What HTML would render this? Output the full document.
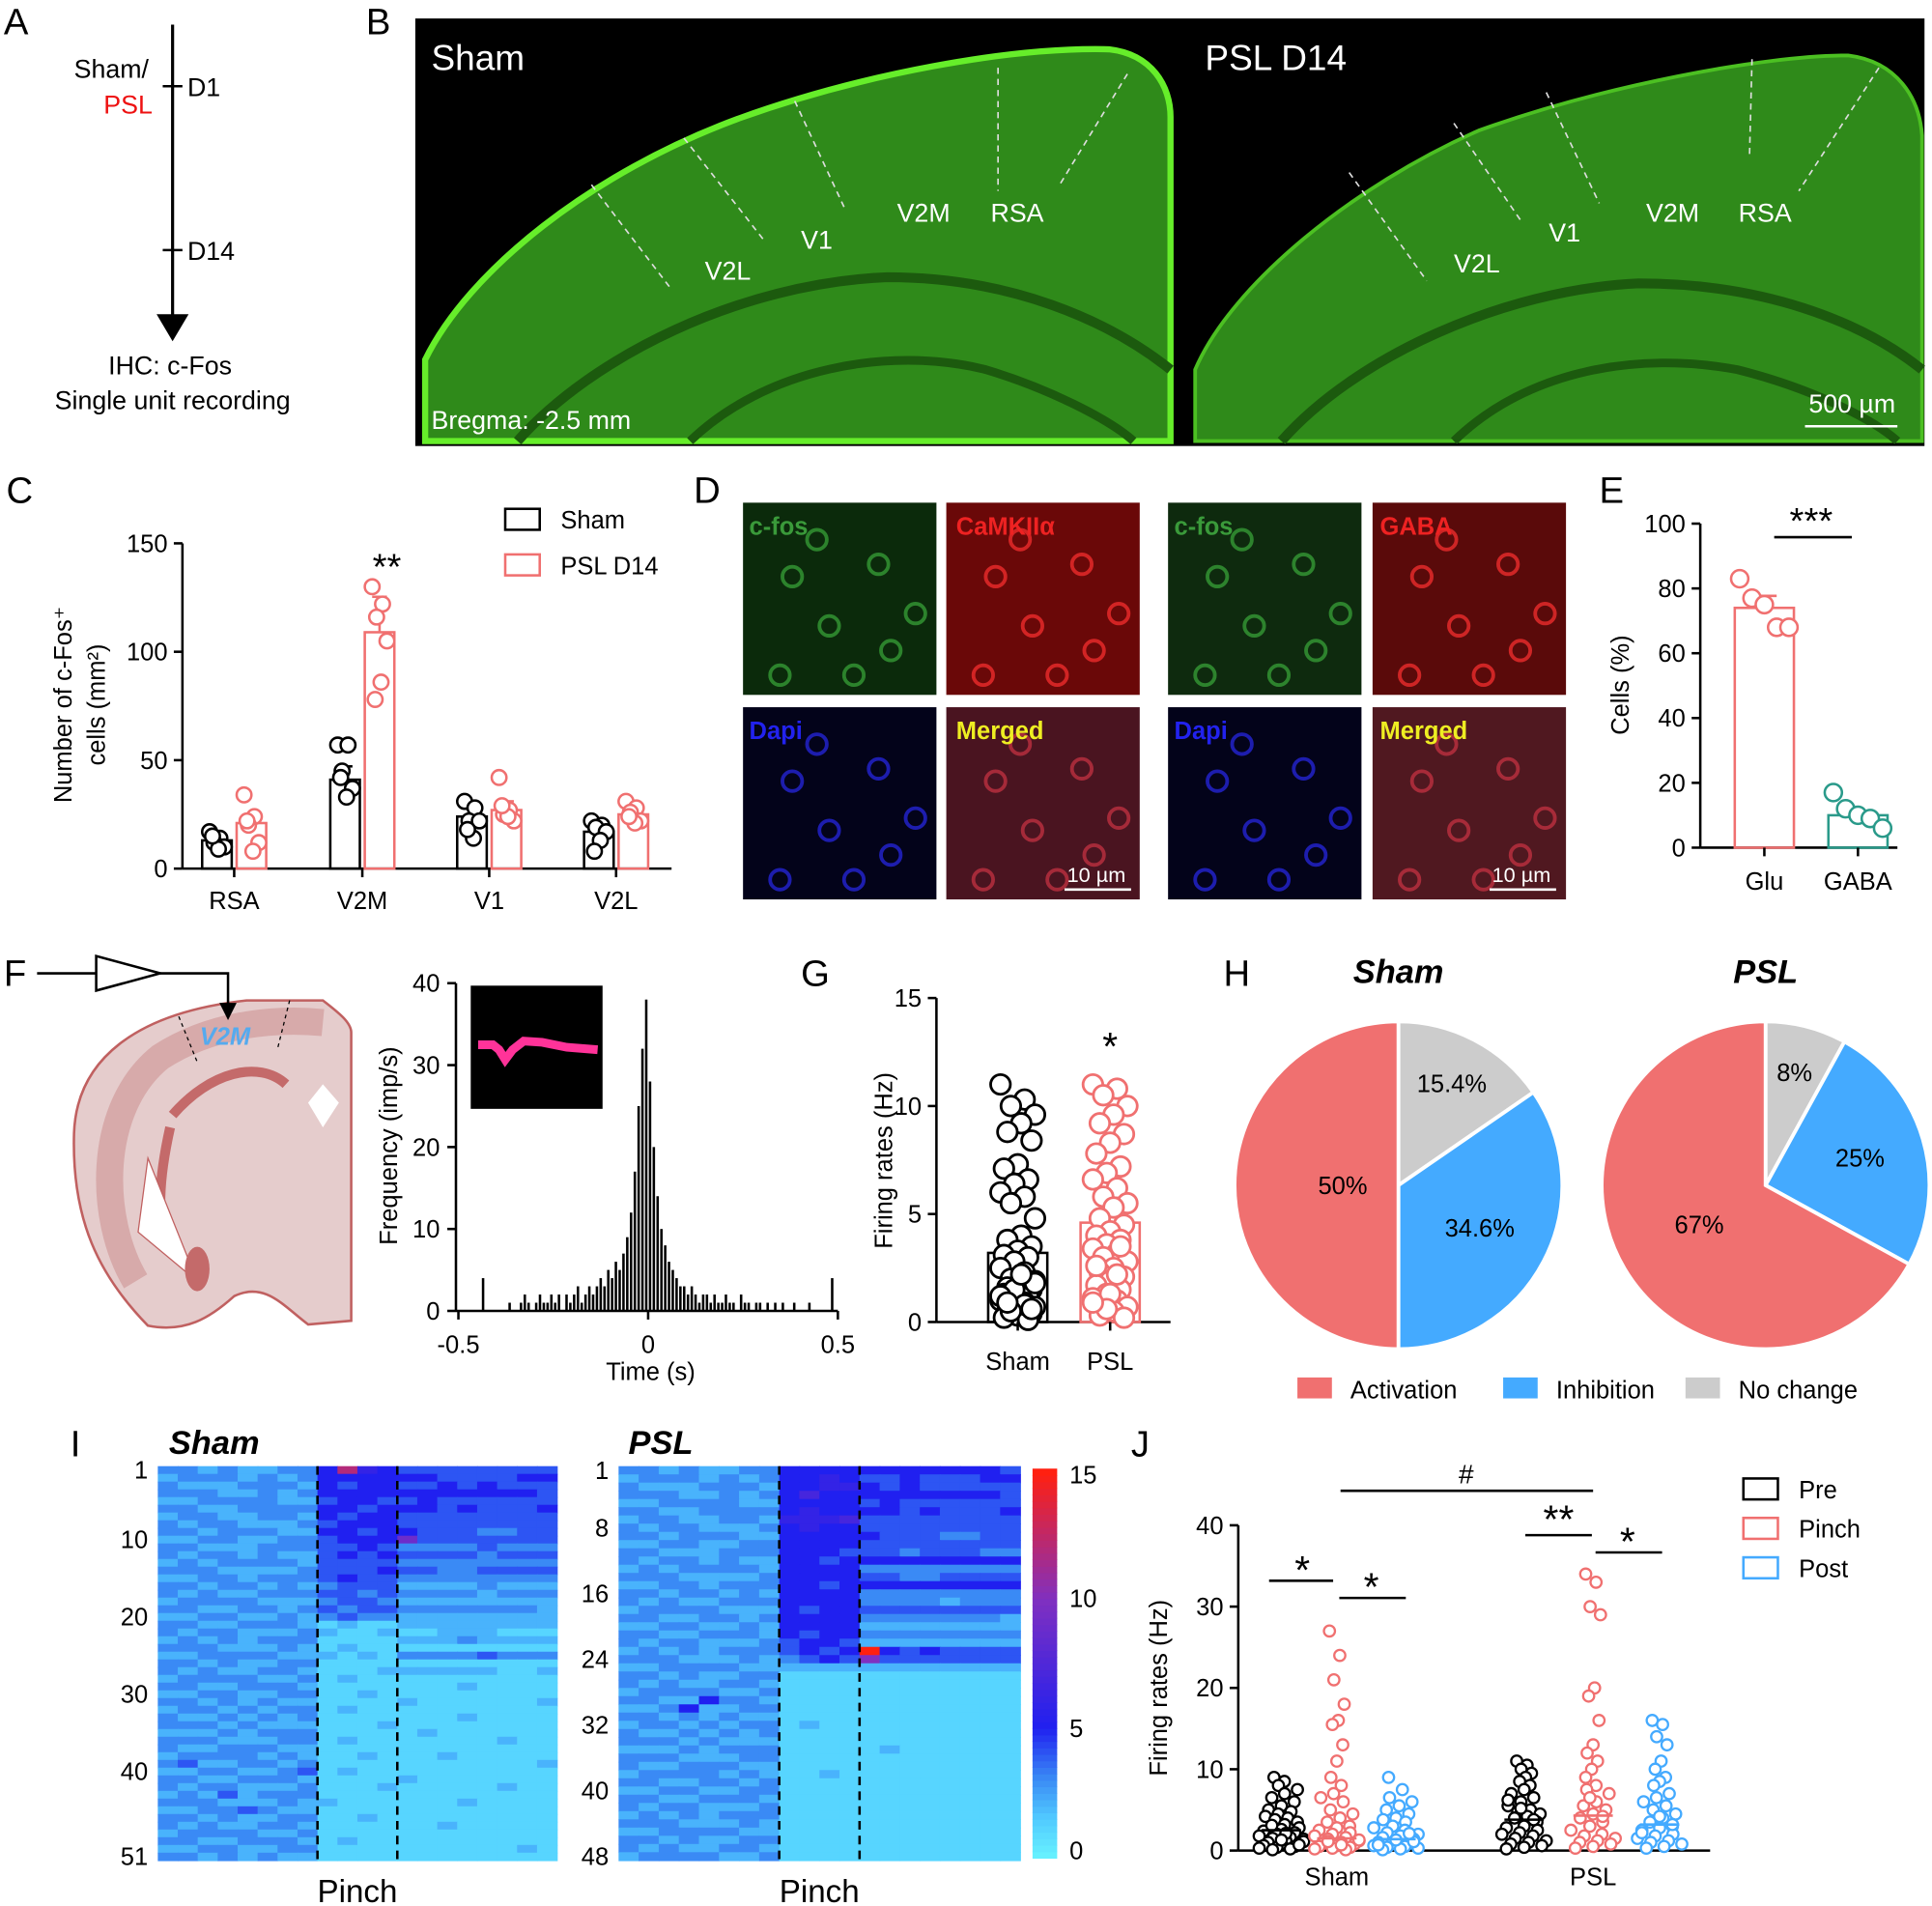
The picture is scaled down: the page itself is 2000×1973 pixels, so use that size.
<!DOCTYPE html>
<html><head><meta charset="utf-8"><style>
html,body{margin:0;padding:0;background:#fff}
svg{display:block;font-family:"Liberation Sans",sans-serif}
</style></head><body>
<svg id="fig" width="2000" height="1973" viewBox="0 0 1568 1547" xmlns="http://www.w3.org/2000/svg">
<g font-size="30" fill="#000">
<text x="3" y="28">A</text><text x="297" y="28">B</text><text x="5" y="408">C</text><text x="563" y="408">D</text><text x="1298" y="408">E</text>
<text x="3" y="800">F</text><text x="650" y="800">G</text><text x="993" y="800">H</text><text x="57" y="1182">I</text><text x="918" y="1182">J</text>
</g>
<g font-size="21">
<line x1="140" y1="20" x2="140" y2="258" stroke="#000" stroke-width="2.5"/>
<polygon points="127,255 153,255 140,277" fill="#000"/>
<line x1="132" y1="70" x2="148" y2="70" stroke="#000" stroke-width="2"/>
<line x1="132" y1="203" x2="148" y2="203" stroke="#000" stroke-width="2"/>
<text x="60" y="63">Sham/</text><text x="84" y="92" fill="#ee1111">PSL</text>
<text x="152" y="78">D1</text><text x="152" y="211">D14</text>
<text x="138" y="304" text-anchor="middle">IHC: c-Fos</text>
<text x="140" y="332" text-anchor="middle">Single unit recording</text>
</g>
<g>
<rect x="337" y="15" width="1225" height="347" fill="#000"/>
<path d="M345,292 C380,220 480,140 600,96 C700,60 820,38 900,40 C935,44 950,70 950,95 L950,358 L345,358 Z" fill="#2f8a1a" stroke="#66ee2a" stroke-width="5"/>
<path d="M420,358 C480,290 600,230 720,225 C820,225 900,260 950,300" fill="none" stroke="#1c5a0e" stroke-width="8"/>
<path d="M560,358 C620,300 720,280 800,300 C850,315 900,340 920,358" fill="none" stroke="#1c5a0e" stroke-width="7"/>
<path d="M970,300 C1000,230 1100,150 1200,106 C1300,70 1430,45 1500,45 C1540,50 1558,80 1560,110 L1560,358 L970,358 Z" fill="#2f8a1a" stroke="#4cc022" stroke-width="3"/>
<path d="M1040,358 C1100,290 1220,235 1330,230 C1430,230 1510,260 1560,300" fill="none" stroke="#1c5a0e" stroke-width="8"/>
<path d="M1180,358 C1240,300 1330,285 1410,300 C1470,315 1520,340 1540,358" fill="none" stroke="#1c5a0e" stroke-width="7"/>
<g stroke="#ddd" stroke-width="1.3" stroke-dasharray="5,4" fill="none">
<line x1="480" y1="150" x2="545" y2="235"/><line x1="555" y1="112" x2="620" y2="195"/><line x1="645" y1="82" x2="685" y2="168"/><line x1="810" y1="55" x2="810" y2="155"/><line x1="915" y1="60" x2="860" y2="150"/>
<line x1="1095" y1="140" x2="1158" y2="228"/><line x1="1180" y1="100" x2="1235" y2="180"/><line x1="1255" y1="75" x2="1298" y2="165"/><line x1="1422" y1="48" x2="1420" y2="125"/><line x1="1525" y1="55" x2="1460" y2="155"/>
</g>
<g fill="#fff" font-size="21">
<text x="350" y="57" font-size="29">Sham</text><text x="978" y="57" font-size="29">PSL D14</text>
<text x="572" y="227">V2L</text><text x="650" y="202">V1</text><text x="728" y="180">V2M</text><text x="804" y="180">RSA</text>
<text x="1180" y="221">V2L</text><text x="1257" y="196">V1</text><text x="1336" y="180">V2M</text><text x="1411" y="180">RSA</text>
<text x="350" y="348">Bregma: -2.5 mm</text><text x="1468" y="335">500 µm</text>
</g>
<line x1="1465" y1="346" x2="1540" y2="346" stroke="#fff" stroke-width="2"/>
</g>
<g font-size="20" font-weight="bold">
<rect x="603" y="408" width="157" height="156" fill="#0b2a0b"/><rect x="768" y="408" width="157" height="156" fill="#6a0808"/>
<rect x="603" y="574" width="157" height="156" fill="#03031a"/><rect x="768" y="574" width="157" height="156" fill="#4a1420"/>
<rect x="948" y="408" width="157" height="156" fill="#0e2a0e"/><rect x="1114" y="408" width="157" height="156" fill="#5a0a0a"/>
<rect x="948" y="574" width="157" height="156" fill="#03031a"/><rect x="1114" y="574" width="157" height="156" fill="#501820"/>
<g id="cells"></g>
<text x="608" y="434" fill="#3a9a3a">c-fos</text><text x="776" y="434" fill="#ee2222">CaMKIIα</text>
<text x="608" y="600" fill="#2222ee">Dapi</text><text x="776" y="600" fill="#eeee22">Merged</text>
<text x="953" y="434" fill="#3a9a3a">c-fos</text><text x="1120" y="434" fill="#ee2222">GABA</text>
<text x="953" y="600" fill="#2222ee">Dapi</text><text x="1120" y="600" fill="#eeee22">Merged</text>
<g font-weight="normal" fill="#fff" font-size="17"><text x="866" y="716">10 µm</text><text x="1211" y="716">10 µm</text></g>
<line x1="864" y1="722" x2="918" y2="722" stroke="#fff" stroke-width="2"/><line x1="1209" y1="722" x2="1263" y2="722" stroke="#fff" stroke-width="2"/>
</g>
<g>
<path d="M60,920 C62,860 110,822 200,812 L262,812 C275,822 285,830 285,838 L285,1072 L250,1075 C230,1060 215,1040 190,1052 C170,1070 150,1082 120,1076 C80,1035 58,990 60,920 Z" fill="#e5cccc" stroke="#c06060" stroke-width="2"/>
<path d="M110,1040 C80,990 78,900 130,858 C170,832 220,826 262,830" fill="none" stroke="#d7aaaa" stroke-width="22"/>
<path d="M140,905 C170,870 210,860 232,880" fill="none" stroke="#c46a6a" stroke-width="8"/>
<path d="M138,915 C128,960 128,990 135,1005" fill="none" stroke="#c46a6a" stroke-width="8"/>
<path d="M120,940 L112,1000 L160,1040 Z" fill="#fff" stroke="#c06060"/>
<ellipse cx="160" cy="1030" rx="10" ry="18" fill="#c46a6a"/>
<path d="M250,895 L262,880 L275,895 L262,915 Z" fill="#fff"/>
<line x1="30" y1="790" x2="78" y2="790" stroke="#000" stroke-width="2"/>
<polygon points="78,776 78,804 130,790" fill="#fff" stroke="#000" stroke-width="2"/>
<polyline points="130,790 185,790 185,818" fill="none" stroke="#000" stroke-width="2"/>
<polygon points="178,814 192,814 185,828" fill="#000"/>
<line x1="145" y1="825" x2="160" y2="862" stroke="#000" stroke-dasharray="3,3"/><line x1="235" y1="812" x2="225" y2="852" stroke="#000" stroke-dasharray="3,3"/>
<text x="162" y="848" font-size="20" font-weight="bold" font-style="italic" fill="#55aaee">V2M</text>
</g>
<g id="charts"></g>
<g font-weight="bold" font-style="italic" font-size="27">
<text x="1135" y="798" text-anchor="middle">Sham</text><text x="1433" y="798" text-anchor="middle">PSL</text>
<text x="137" y="1180">Sham</text><text x="510" y="1180">PSL</text>
</g>
</svg>
<script>
const NS='http://www.w3.org/2000/svg';
const root=document.getElementById('charts');
function mk(tag,a,parent){const e=document.createElementNS(NS,tag);for(const k in a)e.setAttribute(k,a[k]);(parent||root).appendChild(e);return e;}
function tx(x,y,s,a){const e=mk('text',Object.assign({x:x,y:y,'font-size':20},a||{}));e.textContent=s;return e;}

const cRegions=['RSA','V2M','V1','V2L'];
const cShamMean=[13,41,24,17];
const cPslMean=[21,109,27,25];
const cShamPts=[[17,14,12,10,9,15],[57,57,45,37,33,42],[31,28,22,22,14,18],[22,20,19,17,13,8]];
const cPslPts=[[34,24,20,12,8,22],[130,122,116,105,86,78],[42,27,25,22,24,29],[31,28,26,22,21,24]];
const cTicks=[0,50,100,150];
const eCats=['Glu','GABA'];
const eMeans=[74,10];
const ePts=[[83,77,75,68,68],[17,12,10,9,6]];
const eTicks=[0,20,40,60,80,100];
const fCounts=[0,0,0,0,0,0,4,0,0,0,0,0,0,1,0,0,1,2,1,0,1,2,1,1,2,1,2,0,2,1,2,3,1,2,3,2,3,4,3,5,4,6,5,7,9,12,17,25,32,38,28,20,14,10,8,6,5,4,3,3,2,3,2,1,2,2,1,2,1,1,2,1,1,0,2,1,1,0,1,1,0,1,0,1,0,1,0,0,1,0,0,0,1,0,0,0,0,0,4,0];
const fYTicks=[0,10,20,30,40];
const fXTicks=[-0.5,0,0.5];
const gCats=['Sham','PSL'];
const gMeans=[3.2,4.6];
const gSham=[11,10.3,10,9.6,9.2,8.8,8.4,7.3,7.1,6.6,6.4,6,5.8,5.5,4.8,4,3.8,3.5,3.3,3.1,3,2.8,2.5,2.3,2,1.9,1.7,1.6,1.5,1.4,1.3,1.2,1.1,1,0.9,0.8,0.7,0.6,0.5,0.4,0.3,0.2,0.1,1.5,1.2,0.8,0.5,1.8,2.2,0.9,0.6];
const gPsl=[11,10.8,10.5,10,9.6,9.2,8.7,8.3,7.8,7.2,6.9,6.6,6.2,5.8,5.5,5.3,4.8,4.5,4.2,4,3.8,3.6,3.4,3.2,3,2.8,2.5,2.3,2.1,1.9,1.7,1.5,1.3,1.1,1,0.8,0.7,0.5,0.3,0.2,1.3,2.6,3.5,0.6,0.9,2.2];
const gTicks=[0,5,10,15];
const hLabels=['No change','Inhibition','Activation'];
const hSham=[15.4,34.6,50];
const hPsl=[8,25,67];
const hShamText=['15.4%','34.6%','50%'];
const hPslText=['8%','25%','67%'];
const iSham=["33232233 5c65 44444444","23332323 5555 55444455","32223332 5455 44545444","33322323 5555 55555554","22333322 4554 45444444","33223333 5545 55454445","23322332 5455 44444444","32332223 4555 44444444","33233322 5545 54443344","22332233 4555 94444444","33222333 4454 33334333","32332322 4545 44443444","23233332 4444 33333333","33322223 4445 44334444","22332333 4544 33333333","33233232 3444 22223222","32322333 4434 33332333","23333222 3443 22222222","33223323 4344 33333332","22332232 3433 22222222","33223332 1211 22222222","32332223 2112 11222111","23232333 1111 22232222","33322232 1211 11111111","22333322 2121 33334333","33232233 1111 11111111","32322332 1112 22222112","23333223 1211 11111111","33223332 1111 11121111","22332233 1121 11111111","33232322 1111 21111112","23323233 1211 11111111","32232323 1111 11121111","33323222 1112 11111111","22232333 1111 12111111","33322233 1211 11111211","32233322 1111 11111111","23333232 1121 11211111","34223323 1111 11111112","22332234 1211 11111111","33223332 1111 21111111","32332223 1112 11111211","23242333 1111 11111111","33322232 2111 11121111","22334322 1111 11111111","33232233 1121 11111111","32322332 1111 11211111","23333223 1111 11111111","33223332 1211 11111111","22332233 1111 11111121","33232322 1111 11111111"];
const iPsl=["33232233 5555 55555554","23332323 5565 44544455","32223332 5566 54544444","33322323 5755 55555554","22333322 5555 45444444","33223333 5655 55454445","23322332 6667 44444444","32332223 5655 44444444","33233322 5555 54443344","22332233 5555 44444444","33222333 5554 44344433","32332322 5545 55555555","23233332 5555 33333333","33322223 5555 44334444","22332333 5545 55555555","33233232 5555 33333333","32322333 5555 33332333","23333222 5455 44444444","33223323 5555 33333332","22332232 5555 22222222","33223332 5455 33333333","32332223 4554 22222222","23232333 4545 f5454444","33322232 3454 a4444444","22333322 2222 22222222","33232233 1111 11111111","32322332 1111 11111111","23333223 1111 11111111","33225332 1111 11111111","22352233 1111 11111111","33232322 1111 11111111","23323233 1211 11111111","32232323 1111 11111111","33323222 1111 11111111","22232333 1111 12111111","33322233 1111 11111111","32233322 1111 11111111","23333232 1121 11111111","33223323 1111 11111111","22332233 1111 11111111","33223332 1111 11111111","32332223 1111 11111111","23232333 1111 11111111","33322232 1111 11111111","22333322 1111 11111111","33232233 1111 11111111","32322332 1111 11111111","23333223 1111 11111111"];
const iShamTicks=[1,10,20,30,40,51];
const iPslTicks=[1,8,16,24,32,40,48];
const cbTicks=[0,5,10,15];
const jGroups=['Sham','PSL'];
const jConds=['Pre','Pinch','Post'];
const jShamPre=[9,8.5,8,7.5,7,6.5,6,5.5,5,4.8,4.5,4.2,4,3.8,3.5,3.2,3,2.8,2.6,2.4,2.2,2,1.8,1.6,1.5,1.4,1.2,1,0.9,0.8,0.6,0.5,0.4,0.3,0.2,0.1,1.1,2.1,3.1,0.7,1.3];
const jShamPinch=[27,24,21,18,16,15.5,13,11,9,8,7,6.5,6,5,4.5,4,3.5,3,2.8,2.5,2.2,2,1.8,1.6,1.4,1.2,1,0.9,0.8,0.6,0.5,0.4,0.3,0.2,0.1,1.1,1.3,0.7];
const jShamPost=[9,7.5,6.5,6,5.5,5,4.5,4,3.8,3.5,3,2.8,2.5,2.2,2,1.8,1.6,1.4,1.2,1,0.9,0.8,0.6,0.5,0.4,0.3,0.2,0.1,1.1,1.3,0.7,2.1];
const jPslPre=[11,10.5,10,9.5,9,8.5,8,7.5,7,6.5,6,5.5,5,4.8,4.5,4.2,4,3.5,3,2.8,2.5,2.2,2,1.8,1.5,1.2,1,0.8,0.6,0.4,0.2,3.8,5.2,6.2];
const jPslPinch=[34,33,30,29,20,19,16,13,12,11,10,9,8,7.5,7,6,5.5,5,4.5,4,3.5,3,2.5,2,1.8,1.5,1.2,1,0.8,0.5,0.3,4.2,6.5];
const jPslPost=[16,15.5,14,13,11,10,9,8.5,8,7,6.5,6,5.5,5,4.5,4,3.5,3,2.8,2.5,2,1.8,1.5,1.2,1,0.8,0.5,0.3,3.2,4.2,2.2];
const jMedians=[[2.5,1.5,1.4],[3.8,4.3,3.2]];
const jTicks=[0,10,20,30,40];

const RED='#f07070', BLUE='#44aaff', TEAL='#2a9a8a';
function jit(i,w){return (((i*7)%11)-5)/5*w;}

(function(){
 const g=mk('g',{});
  
 const y=v=>705-v*1.76, X0=148, X1=545;
 mk('line',{x1:X0,y1:705,x2:X0,y2:y(150),stroke:'#000','stroke-width':2},g);
 mk('line',{x1:X0,y1:705,x2:X1,y2:705,stroke:'#000','stroke-width':2},g);
 cTicks.forEach(t=>{mk('line',{x1:X0-7,y1:y(t),x2:X0,y2:y(t),stroke:'#000','stroke-width':2},g);
  const e=tx(X0-12,y(t)+7,String(t),{'text-anchor':'end'}); g.appendChild(e);
   });
 const cx=[190,294,397,500];
 cRegions.forEach((r,i)=>{
  const e=tx(cx[i],738,r,{'text-anchor':'middle'}); g.appendChild(e);
   
  mk('line',{x1:cx[i],y1:705,x2:cx[i],y2:712,stroke:'#000','stroke-width':2},g);
  [[cShamMean,cShamPts,'#000',-14],[cPslMean,cPslPts,RED,14]].forEach(([m,p,col,off])=>{
   const xc=cx[i]+off;
   const b=mk('rect',{x:xc-12,y:y(m[i]),width:24,height:705-y(m[i]),fill:'none',stroke:col,'stroke-width':2},g);
    
   mk('line',{x1:xc,y1:y(m[i]),x2:xc,y2:y(m[i]*1.15),stroke:col,'stroke-width':2},g);
   mk('line',{x1:xc-6,y1:y(m[i]*1.15),x2:xc+6,y2:y(m[i]*1.15),stroke:col,'stroke-width':2},g);
   p[i].forEach((v,k)=>{const d=mk('circle',{cx:xc+jit(k,6),cy:y(v),r:6,fill:'#fff',stroke:col,'stroke-width':2},g);
     });
  });
 });
 let e=tx(314,470,'**',{'font-size':30,'text-anchor':'middle'}); g.appendChild(e);
 mk('rect',{x:410,y:413,width:28,height:17,fill:'none',stroke:'#000','stroke-width':2},g);
 mk('rect',{x:410,y:450,width:28,height:17,fill:'none',stroke:RED,'stroke-width':2},g);
 e=tx(455,429,'Sham'); g.appendChild(e); e=tx(455,466,'PSL D14'); g.appendChild(e);
 e=tx(0,0,'Number of c-Fos⁺',{transform:'translate(58,572) rotate(-90)','text-anchor':'middle'}); g.appendChild(e);
 e=tx(0,0,'cells (mm²)',{transform:'translate(85,572) rotate(-90)','text-anchor':'middle'}); g.appendChild(e);
})();

(function(){
 const g=document.getElementById('cells');
 const pos=[[40,60],[70,100],[30,140],[110,50],[120,120],[60,30],[90,140],[140,90]];
 const quad=[[603,408,'#3aaa3a'],[768,408,'#ff3030'],[603,574,'#2a2aee'],[768,574,'#cc3344'],[948,408,'#3aaa3a'],[1114,408,'#ff3030'],[948,574,'#2a2aee'],[1114,574,'#cc3344']];
 quad.forEach(q=>pos.forEach(p=>{mk('circle',{cx:q[0]+p[0],cy:q[1]+p[1],r:8,fill:'none',stroke:q[2],'stroke-width':3,opacity:0.7},g);}));
})();

(function(){
 const g=mk('g',{});
  
 const y=v=>688-v*2.63, X0=1380;
 mk('line',{x1:X0,y1:688,x2:X0,y2:y(100),stroke:'#000','stroke-width':2},g);
 mk('line',{x1:X0,y1:688,x2:1540,y2:688,stroke:'#000','stroke-width':2},g);
 eTicks.forEach(t=>{mk('line',{x1:X0-7,y1:y(t),x2:X0,y2:y(t),stroke:'#000','stroke-width':2},g);
  const e=tx(X0-12,y(t)+7,String(t),{'text-anchor':'end'}); g.appendChild(e);});
 const cx=[1432,1508], cols=[RED,TEAL];
 eCats.forEach((c,i)=>{
  const b=mk('rect',{x:cx[i]-24,y:y(eMeans[i]),width:48,height:688-y(eMeans[i]),fill:'none',stroke:cols[i],'stroke-width':2},g);
   
  mk('line',{x1:cx[i]-10,y1:y(eMeans[i]*1.05),x2:cx[i]+10,y2:y(eMeans[i]*1.05),stroke:cols[i],'stroke-width':2},g);
  ePts[i].forEach((v,k)=>{const d=mk('circle',{cx:cx[i]+(k-2)*10,cy:y(v),r:7,fill:'#fff',stroke:cols[i],'stroke-width':2},g);
    });
  const e=tx(cx[i],722,c,{'text-anchor':'middle'}); g.appendChild(e);
  mk('line',{x1:cx[i],y1:688,x2:cx[i],y2:695,stroke:'#000','stroke-width':2},g);
 });
 mk('line',{x1:1440,y1:436,x2:1503,y2:436,stroke:'#000','stroke-width':2},g);
 let e=tx(1470,433,'***',{'font-size':30,'text-anchor':'middle'}); g.appendChild(e);
 e=tx(0,0,'Cells (%)',{transform:'translate(1322,556) rotate(-90)','text-anchor':'middle'}); g.appendChild(e);
})();

(function(){
 const g=mk('g',{});
  
 const y=v=>1064-v*6.65, x=t=>526+t*308;
 mk('line',{x1:370,y1:1064,x2:370,y2:y(40),stroke:'#000','stroke-width':2},g);
 mk('line',{x1:370,y1:1064,x2:680,y2:1064,stroke:'#000','stroke-width':2},g);
 fYTicks.forEach(t=>{mk('line',{x1:363,y1:y(t),x2:370,y2:y(t),stroke:'#000','stroke-width':2},g);
  const e=tx(357,y(t)+7,String(t),{'text-anchor':'end'}); g.appendChild(e);});
 fXTicks.forEach(t=>{mk('line',{x1:x(t),y1:1064,x2:x(t),y2:1071,stroke:'#000','stroke-width':2},g);
  const e=tx(x(t),1098,String(t),{'text-anchor':'middle'}); g.appendChild(e);});
 const n=fCounts.length, bw=1/n;
 fCounts.forEach((c,i)=>{const tc=-0.5+(i+0.5)*bw;
  const b=mk('rect',{x:x(tc)-1,y:y(c),width:2,height:1064-y(c),fill:'#000'},g);
   });
 let e=tx(528,1120,'Time (s)',{'text-anchor':'middle'}); g.appendChild(e);
 e=tx(0,0,'Frequency (imp/s)',{transform:'translate(322,930) rotate(-90)','text-anchor':'middle'}); g.appendChild(e);
 const ins=mk('rect',{x:382,y:800,width:107,height:100,fill:'#000'},g);
  
 mk('path',{d:'M388,848 L400,848 L405,852 L410,860 L416,852 L425,845 L440,846 L460,850 L485,852',fill:'none',stroke:'#ff3399','stroke-width':7},g);
})();

(function(){
 const g=mk('g',{});
  
 const y=v=>1073-v*17.53, X0=760;
 mk('line',{x1:X0,y1:1073,x2:X0,y2:y(15),stroke:'#000','stroke-width':2},g);
 mk('line',{x1:X0,y1:1073,x2:950,y2:1073,stroke:'#000','stroke-width':2},g);
 gTicks.forEach(t=>{mk('line',{x1:X0-7,y1:y(t),x2:X0,y2:y(t),stroke:'#000','stroke-width':2},g);
  const e=tx(X0-12,y(t)+7,String(t),{'text-anchor':'end'}); g.appendChild(e);});
 const cx=[826,901], cols=['#000',RED], pts=[gSham,gPsl];
 gCats.forEach((c,i)=>{
  const b=mk('rect',{x:cx[i]-24,y:y(gMeans[i]),width:48,height:1073-y(gMeans[i]),fill:'none',stroke:cols[i],'stroke-width':2},g);
   
  mk('line',{x1:cx[i]-10,y1:y(gMeans[i]+0.6),x2:cx[i]+10,y2:y(gMeans[i]+0.6),stroke:cols[i],'stroke-width':2},g);
  pts[i].forEach((v,k)=>{const d=mk('circle',{cx:cx[i]+jit(k,14),cy:y(v),r:8,fill:'#fff',stroke:cols[i],'stroke-width':2.2},g);
    });
  const e=tx(cx[i],1112,c,{'text-anchor':'middle'}); g.appendChild(e);
  mk('line',{x1:cx[i],y1:1073,x2:cx[i],y2:1080,stroke:'#000','stroke-width':2},g);
 });
 let e=tx(901,860,'*',{'font-size':32,'text-anchor':'middle'}); g.appendChild(e);
 e=tx(0,0,'Firing rates (Hz)',{transform:'translate(724,942) rotate(-90)','text-anchor':'middle'}); g.appendChild(e);
})();

(function(){
 const cols=['#cccccc',BLUE,RED];
 function pie(cx,cy,r,vals,texts,name,lr){
  const g=mk('g',{});
   
  const tot=vals.reduce((a,b)=>a+b,0); let a0=-Math.PI/2;
  vals.forEach((v,i)=>{const a1=a0+v/tot*2*Math.PI;
   const large=(a1-a0)>Math.PI?1:0;
   const d='M'+cx+','+cy+' L'+(cx+r*Math.cos(a0))+','+(cy+r*Math.sin(a0))+' A'+r+','+r+' 0 '+large+' 1 '+(cx+r*Math.cos(a1))+','+(cy+r*Math.sin(a1))+' Z';
   const p=mk('path',{d:d,fill:cols[i],stroke:'#fff','stroke-width':3},g);
    
   const am=(a0+a1)/2, rr=r*lr[i];
   const e=tx(cx+rr*Math.cos(am),cy+rr*Math.sin(am)+7,texts[i],{'text-anchor':'middle'}); g.appendChild(e);
    
   a0=a1;});
 }
 pie(1135,962,133,hSham,hShamText,'pie-sham',[0.7,0.56,0.34]);
 pie(1433,962,133,hPsl,hPslText,'pie-psl',[0.71,0.6,0.47]);
 const lx=[1053,1220,1368];
 hLabels.slice().reverse().forEach((l,k)=>{const i=2-k;
  const r=mk('rect',{x:lx[k],y:1118,width:28,height:17,fill:cols[i]});
   
  const e=tx(lx[k]+43,1135,l);
   });
})();

function cmap(v){
 const st=[[0,[102,240,255]],[1.5,[80,200,255]],[3,[58,138,245]],[5,[32,32,240]],[10,[128,48,192]],[15,[255,32,16]]];
 for(let i=1;i<st.length;i++){if(v<=st[i][0]){const t=(v-st[i-1][0])/(st[i][0]-st[i-1][0]);
  const c=st[i-1][1].map((a,k)=>Math.round(a+(st[i][1][k]-a)*t));return 'rgb('+c.join(',')+')';}}
 return 'rgb(255,32,16)';
}
function heat(rows,x0,x1,y0,y1,ticks,name){
 const g=mk('g',{});
  
 const R=rows.length, ch=(y1-y0)/R;
 rows.forEach((s,r)=>{const vals=s.replace(/ /g,'').split('').map(c=>parseInt(c,16));
  const cw=(x1-x0)/vals.length;
  vals.forEach((v,c)=>{const cell=mk('rect',{x:x0+c*cw,y:y0+r*ch,width:cw+0.6,height:ch+0.6,fill:cmap(v)},g);
    });});
 const cw=(x1-x0)/20;
 [8,12].forEach(c=>mk('line',{x1:x0+c*cw,y1:y0,x2:x0+c*cw,y2:y1,stroke:'#000','stroke-width':2,'stroke-dasharray':'7,5'},g));
 ticks.forEach(t=>{const e=tx(x0-8,y0+(t-0.5)*ch+7,String(t),{'text-anchor':'end'}); g.appendChild(e);
   });
 const e=tx((x0+x1)/2,1544,'Pinch',{'text-anchor':'middle','font-size':26}); g.appendChild(e);
}
heat(iSham,128,452,1190,1510,iShamTicks,'heatmap-sham');
heat(iPsl,502,828,1190,1510,iPslTicks,'heatmap-psl');
(function(){
 const g=mk('g',{});
  
 const y0=1192,y1=1508,n=60;
 for(let i=0;i<n;i++){mk('rect',{x:838,y:y1-(i+1)*(y1-y0)/n,width:20,height:(y1-y0)/n+0.6,fill:cmap(i/(n-1)*15)},g);}
 cbTicks.forEach(t=>{const e=tx(868,y1-t/15*(y1-y0)+7-(t==15?-5:(t==0?6:0)),String(t)); g.appendChild(e);});
})();

(function(){
 const g=mk('g',{});
  
 const y=v=>1502-v*6.6, X0=1005;
 mk('line',{x1:X0,y1:1502,x2:X0,y2:y(40),stroke:'#000','stroke-width':2},g);
 mk('line',{x1:X0,y1:1502,x2:1388,y2:1502,stroke:'#000','stroke-width':2},g);
 jTicks.forEach(t=>{mk('line',{x1:X0-7,y1:y(t),x2:X0,y2:y(t),stroke:'#000','stroke-width':2},g);
  const e=tx(X0-12,y(t)+7,String(t),{'text-anchor':'end'}); g.appendChild(e);});
 const cx=[[1040,1085,1133],[1237,1293,1347]], cols=['#000',RED,BLUE];
 const data=[[jShamPre,jShamPinch,jShamPost],[jPslPre,jPslPinch,jPslPost]];
 jGroups.forEach((gn,gi)=>{
  data[gi].forEach((arr,ci)=>{const xc=cx[gi][ci];
   arr.forEach((v,k)=>{const w=v<3?18:(v<8?13:6);
    const d=mk('circle',{cx:xc+jit(k,w),cy:y(v),r:4.5,fill:'#fff',stroke:cols[ci],'stroke-width':1.8},g);
     });
   mk('line',{x1:xc-16,y1:y(jMedians[gi][ci]),x2:xc+16,y2:y(jMedians[gi][ci]),stroke:cols[ci],'stroke-width':2},g);
  });
  const e=tx(cx[gi][1],1530,gn,{'text-anchor':'middle'}); g.appendChild(e);
 });
 [[1030,1082,1283,'*',1057],[1087,1141,1297,'*',1113],[1238,1292,1246,'**',1265],[1295,1349,1260,'*',1321]].forEach(s=>{
  mk('line',{x1:s[0],y1:s[2],x2:s[1],y2:s[2],stroke:'#000','stroke-width':2},g);
  const e=tx(s[4],s[2]+(s[3]=='**'?-2:2),s[3],{'font-size':32,'text-anchor':'middle'}); g.appendChild(e);});
 mk('line',{x1:1088,y1:1210,x2:1293,y2:1210,stroke:'#000','stroke-width':2},g);
 let e=tx(1190,1204,'#',{'text-anchor':'middle','font-size':22}); g.appendChild(e);
 e=tx(0,0,'Firing rates (Hz)',{transform:'translate(947,1370) rotate(-90)','text-anchor':'middle'}); g.appendChild(e);
 jConds.forEach((c,i)=>{const r=mk('rect',{x:1415,y:1200+i*32,width:28,height:17,fill:'none',stroke:cols[i],'stroke-width':2},g);
   
  const t=tx(1460,1216+i*32,c); g.appendChild(t);
   });
})();
</script>
</body></html>
